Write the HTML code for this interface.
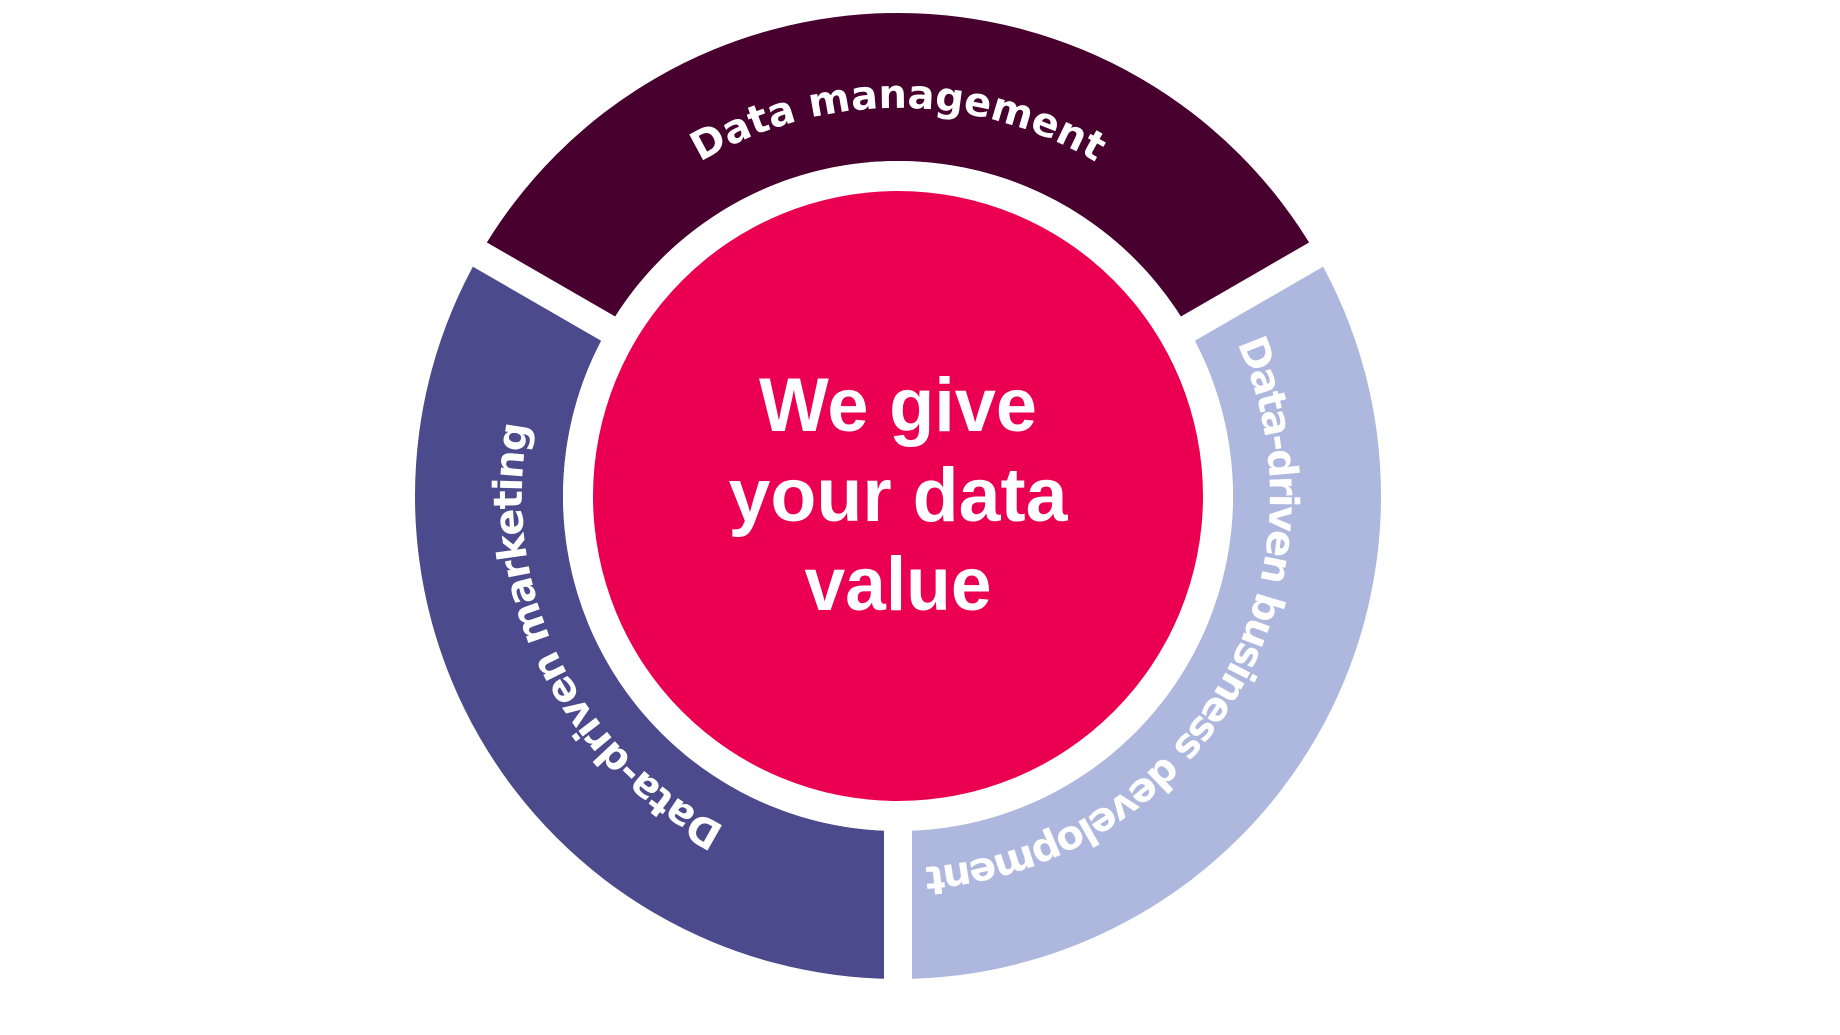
<!DOCTYPE html>
<html><head><meta charset="utf-8"><style>
html,body{margin:0;padding:0;background:#fff;width:1840px;height:1035px;overflow:hidden}
svg{display:block}
text{font-family:"Liberation Sans","DejaVu Sans",sans-serif;font-weight:bold;fill:#fff}
.c{font-family:"DejaVu Sans","Liberation Sans",sans-serif}
</style></head><body>
<svg width="1840" height="1035" viewBox="0 0 1840 1035" xmlns="http://www.w3.org/2000/svg">
<defs>
<path id="tTop" d="M 898 496 m -297.3 -249.4 A 388 388 0 0 1 1195.3 246.6"/>
<path id="tRight" d="M 898 496 m 329.2 -173 A 372 372 0 0 1 870 867"/>
<path id="tLeft" d="M 898 496 m -176 329 A 372 372 0 0 1 528 428"/>
</defs>
<g transform="translate(898,496)">
<path d="M -418.3 -241.5 A 483 483 0 0 1 418.3 -241.5 L 290.1 -167.5 A 335 335 0 0 0 -290.1 -167.5 Z" fill="#48002f"/>
<path d="M 418.3 -241.5 A 483 483 0 0 1 0 483 L 0 335 A 335 335 0 0 0 290.1 -167.5 Z" fill="#aeb8de"/>
<path d="M 0 483 A 483 483 0 0 1 -418.3 -241.5 L -290.1 -167.5 A 335 335 0 0 0 0 335 Z" fill="#4b4a8c"/>
<line x1="0" y1="0" x2="0" y2="520" stroke="#fff" stroke-width="28"/>
<line x1="0" y1="0" x2="450.3" y2="-260" stroke="#fff" stroke-width="28"/>
<line x1="0" y1="0" x2="-450.3" y2="-260" stroke="#fff" stroke-width="28"/>
<circle cx="0" cy="0" r="335" fill="#fff"/>
<circle cx="0" cy="0" r="305" fill="#eb0051"/>
</g>
<text class="c" font-size="40"><textPath href="#tTop" startOffset="50%" text-anchor="middle" textLength="415" lengthAdjust="spacing">Data management</textPath></text>
<text class="c" font-size="40"><textPath href="#tRight" startOffset="48%" text-anchor="middle" textLength="715" lengthAdjust="spacing">Data-driven business development</textPath></text>
<text class="c" font-size="40"><textPath href="#tLeft" startOffset="50%" text-anchor="middle" textLength="480" lengthAdjust="spacing">Data-driven marketing</textPath></text>
<text x="898" y="431" font-size="76" text-anchor="middle" textLength="278" lengthAdjust="spacingAndGlyphs">We give</text>
<text x="898" y="521" font-size="76" text-anchor="middle" textLength="339" lengthAdjust="spacingAndGlyphs">your data</text>
<text x="898" y="610" font-size="76" text-anchor="middle" textLength="187" lengthAdjust="spacingAndGlyphs">value</text>
</svg>
</body></html>
